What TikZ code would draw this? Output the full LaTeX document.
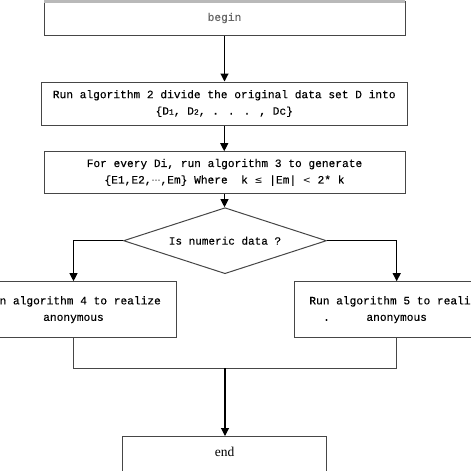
\documentclass[tikz,border=0pt]{standalone}
\usepackage{fontspec}
\setmainfont[FakeBold=0.2]{Liberation Mono}
\newfontfamily\serifx{Liberation Serif}
\newfontfamily\djv{DejaVu Sans}
\usetikzlibrary{shapes.geometric,arrows.meta}
\definecolor{boxgray}{RGB}{70,70,70}
\definecolor{txtgray}{RGB}{100,100,100}
\definecolor{bargray}{RGB}{185,185,185}
\begin{document}
\begin{tikzpicture}[x=1pt,y=-1pt,
  box/.style={draw=boxgray, line width=1pt, inner sep=0pt, align=center,
    font=\fontsize{11.2}{16.5}\selectfont},
  arr/.style={-{Triangle[width=8pt,length=8pt]}, line width=1.1pt, draw=black},
  ln/.style={line width=1pt, draw=boxgray}]
\useasboundingbox (0,0) rectangle (471,471);
\clip (0,0) rectangle (471,471);
\fill[white] (0,0) rectangle (471,471);

\node[box, minimum width=361pt, minimum height=34pt, text=txtgray] (begin) at (224.5,18) {begin};
\fill[bargray] (44,0) rectangle (405,2.5);

\node[box, minimum width=365.5pt, minimum height=43pt] (div) at (224.25,103.5)
  {Run algorithm 2 divide the original data set D into\\
   \{D{\fontsize{8}{8}\selectfont 1}, D{\fontsize{8}{8}\selectfont 2}, . . . , Dc\}};

\node[box, minimum width=361pt, minimum height=41.3pt] (every) at (224.5,172.35)
  {For every Di, run algorithm 3 to generate\\
   \{E1,E2,{\djv\fontsize{9}{9}\selectfont ⋯},Em\} Where\ \ k {\djv\fontsize{9.5}{9}\selectfont ≤} |Em| {\djv\fontsize{9.5}{9}\selectfont <} 2* k};

\node[draw=boxgray, line width=1pt, diamond, shape aspect=3.08, inner sep=0pt,
  minimum width=203pt, minimum height=66pt, font=\fontsize{11}{14}\selectfont] (dec) at (225,240.7)
  {Is numeric data ?};

\node[box, minimum width=205pt, minimum height=56pt] (alg4) at (73.5,309.7)
  {Run algorithm 4 to realize\\anonymous};
\node[box, minimum width=204pt, minimum height=56pt] (alg5) at (396.7,309.7)
  {Run algorithm 5 to realize\\anonymous};
\node[inner sep=0pt, font=\fontsize{11.2}{14}\selectfont] (dot) at (326.5,320) {.};

\node[box, minimum width=204pt, minimum height=64pt, anchor=north] (end) at (224.7,436) {};
\node[inner sep=0pt, font=\serifx\fontsize{13.5}{14}\selectfont] (endtxt) at (224.7,452) {end};

\coordinate (m) at (225,368.3);

\draw[arr] (begin.south) -- (begin.south |- div.north);
\draw[arr] (div.south) -- (div.south |- every.north);
\draw[arr] (every.south) -- (every.south |- dec.north);
\draw[arr] (dec.west) -| (alg4.north);
\draw[arr] (dec.east) -| (alg5.north);
\draw[ln] (alg4.south) |- (m);
\draw[ln] (alg5.south) |- (m);
\draw[arr] (m) -- (m |- end.north);
\end{tikzpicture}
\end{document}
